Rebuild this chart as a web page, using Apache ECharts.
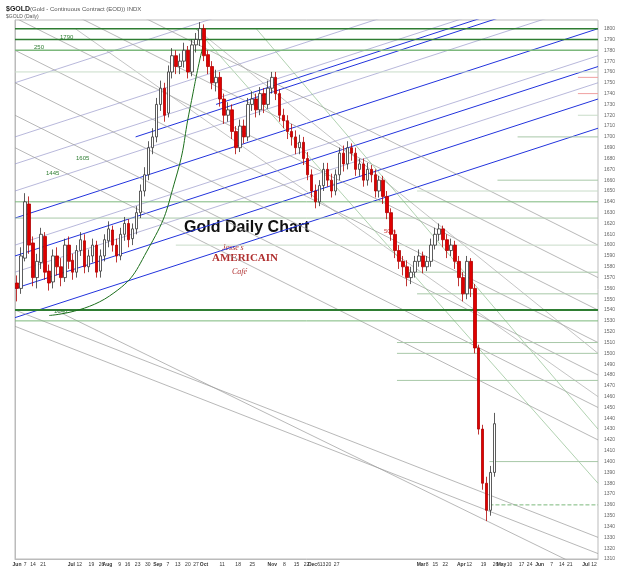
<!DOCTYPE html><html><head><meta charset="utf-8"><script src="https://cdn.jsdelivr.net/npm/echarts@6/dist/echarts.min.js"></script>
<style>html,body{margin:0;background:#fff}#c{width:640px;height:571px}</style></head><body><div id="c"></div><script>
// x tick labels (slot index, text)
var tickIdx=[1,5,9,14,28,32,38,43,46,52,56,61,66,71,76,81,86,90,94,103,111,118,128,134,140,145,148,151,153,156,160,202,205,209,214,222,226,233,239,242,246,252,256,261,267,272,276,284,288];
var tickText=['Jun','7','14','21','Jul','12','19','26','Aug','9','16','23','30','Sep','7','13','20','27','Oct','11','18','25','Nov','8','15','22','Dec','6','13','20','27','Mar','8','15','22','Apr','12','19','26','May','10','17','24','Jun','7','14','21','Jul','12'];
var monthNames=['Jun','Jul','Aug','Sep','Oct','Nov','Dec','Mar','Apr','May'];
// candles: [open, close, low, high], one per 2 slots starting at slot 1
var candles=[
[1565,1560,1548,1572],[1560,1590,1555,1598],[1588,1640,1585,1648],[1638,1600,1592,1645],[1602,1570,1562,1608],[1570,1585,1560,1592],[1584,1610,1578,1616],[1608,1575,1568,1612],[1576,1565,1558,1582],[1566,1590,1560,1596],[1590,1580,1572,1598],
[1580,1570,1562,1588],[1570,1600,1566,1606],[1600,1585,1578,1608],[1586,1575,1568,1592],[1575,1595,1570,1600],[1595,1605,1590,1612],[1604,1580,1574,1610],[1580,1590,1575,1596],[1590,1600,1584,1606],[1600,1575,1570,1604],
[1576,1590,1570,1596],[1590,1605,1585,1610],[1604,1615,1598,1622],[1614,1600,1594,1618],[1600,1590,1584,1606],[1590,1610,1586,1616],[1610,1620,1604,1626],[1620,1605,1598,1624],[1606,1615,1600,1620],[1615,1630,1610,1636],
[1630,1650,1625,1656],[1650,1665,1645,1672],[1665,1690,1660,1696],[1690,1700,1684,1708],[1700,1730,1695,1736],[1730,1745,1724,1752],[1745,1720,1714,1750],[1722,1760,1718,1766],[1760,1775,1754,1782],[1775,1765,1758,1780],
[1765,1770,1758,1777],[1770,1780,1764,1787],[1780,1760,1754,1784],[1760,1785,1756,1790],[1785,1790,1778,1796],[1790,1800,1784,1806],[1800,1775,1770,1804],[1776,1765,1758,1780],[1765,1750,1744,1770],[1750,1755,1742,1762],
[1755,1735,1728,1760],[1735,1720,1712,1740],[1720,1725,1714,1732],[1725,1705,1698,1730],[1705,1690,1684,1710],[1690,1710,1686,1716],[1710,1700,1694,1716],[1700,1730,1696,1736],[1730,1735,1724,1742],[1735,1725,1718,1740],
[1725,1740,1720,1746],[1740,1730,1722,1745],[1730,1745,1726,1752],[1745,1755,1740,1760],[1755,1740,1734,1760],[1740,1720,1714,1744],[1720,1715,1708,1726],[1715,1705,1698,1720],[1705,1700,1692,1712],[1700,1690,1684,1706],
[1690,1695,1684,1702],[1695,1680,1674,1700],[1680,1665,1660,1686],[1665,1650,1644,1670],[1650,1640,1634,1656],[1640,1655,1636,1660],[1655,1670,1650,1676],[1670,1660,1654,1676],[1660,1650,1644,1666],[1650,1665,1646,1670],
[1665,1685,1660,1690],[1685,1675,1668,1692],[1675,1690,1670,1696],[1690,1685,1678,1694],[1685,1670,1664,1690],[1670,1675,1664,1680],[1675,1660,1654,1680],[1660,1670,1655,1676],[1670,1665,1658,1674],[1665,1650,1644,1670],
[1650,1660,1644,1664],[1660,1645,1638,1664],[1645,1630,1624,1650],[1630,1610,1604,1634],[1610,1595,1588,1614],[1595,1585,1578,1600],[1585,1580,1572,1590],[1580,1570,1562,1586],[1570,1575,1564,1580],[1575,1585,1570,1590],
[1585,1590,1580,1596],[1590,1580,1574,1594],[1580,1585,1576,1590],[1585,1600,1580,1606],[1600,1610,1596,1616],[1610,1615,1604,1620],[1615,1605,1598,1618],[1605,1595,1588,1610],[1595,1600,1590,1606],[1600,1585,1578,1604],
[1585,1570,1562,1590],[1570,1555,1548,1575],[1555,1585,1550,1590],[1585,1560,1552,1588],[1560,1505,1500,1564],[1505,1430,1425,1508],[1430,1380,1374,1434],[1380,1355,1345,1386],[1355,1390,1350,1396],[1390,1435,1386,1445]
];
// horizontal annotation lines: [price, start slot, color, width, dashed]
var hLines=[[1800,0,'#2e7d32',1.5,0],[1790,0,'#2e7d32',1.5,0],[1780,0,'#7cb87c',1.5,0],[1760,0,'#c8dcc8',1,0],[1755,280,'#f0a0a0',1,0],[1740,280,'#f0a0a0',1,0],[1720,280,'#c8dcc8',1,0],[1700,250,'#a8c8a8',1,0],[1660,240,'#a8c8a8',1,0],[1650,200,'#c8dcc8',1,0],[1640,0,'#7cb87c',1,0],[1625,0,'#a8c8a8',1,0],[1600,80,'#c8dcc8',1,0],[1575,200,'#a8c8a8',1,0],[1555,200,'#a8c8a8',1,0],[1540,0,'#2e7d32',2,0],[1530,0,'#7cb87c',1,0],[1510,190,'#a8c8a8',1,0],[1500,190,'#a8c8a8',1,0],[1475,190,'#a8c8a8',1,0],[1400,236,'#a8c8a8',1,0],[1360,236,'#7cb87c',1,1]];
// diagonal trend lines: [slot1, price1, slot2, price2, color]
var dLines=[
[0,1533,290,1708,'#2233dd'],[0,1560,290,1735,'#2233dd'],[0,1590,290,1765,'#2233dd'],[0,1625,290,1800,'#2233dd'],[60,1700,290,1840,'#2233dd'],[100,1730,290,1845,'#2233dd'],
[0,1600,290,1775,'#9999cc'],[0,1650,290,1825,'#9999cc'],[0,1675,290,1850,'#9999cc'],[0,1700,290,1875,'#9999cc'],[0,1750,290,1925,'#9999cc'],[0,1575,290,1750,'#9999cc'],
[0,1870,290,1600,'#999999'],[0,1840,290,1570,'#999999'],[0,1810,290,1540,'#999999'],[0,1780,290,1510,'#999999'],[0,1750,290,1480,'#999999'],[0,1720,290,1450,'#999999'],[0,1690,290,1420,'#999999'],[30,1800,290,1460,'#aaaaaa'],[90,1800,290,1500,'#aaaaaa'],
[0,1540,290,1330,'#999999'],[0,1525,290,1315,'#999999'],[20,1540,290,1295,'#999999'],[90,1800,290,1380,'#8fbf8f'],[120,1800,290,1430,'#8fbf8f']];
var parabola=[[17,1535],[47,1553],[67,1599],[80,1662],[87,1726],[92,1772],[94.5,1790]];

var ser=[{type:'candlestick',data:candles.map(function(c,i){return [1+1.98*i].concat(c);}),encode:{x:0,y:[1,2,3,4]},barWidth:3,
 itemStyle:{color:'#ffffff',color0:'#e00000',borderColor:'#333',borderColor0:'#b00000',borderWidth:0.8},z:5}];
hLines.forEach(function(h){ser.push({type:'line',data:[[h[1],h[0]],[290,h[0]]],symbol:'none',silent:true,lineStyle:{color:h[2],width:h[3],type:h[4]?'dashed':'solid'},z:2});});
dLines.forEach(function(d){ser.push({type:'line',data:[[d[0],d[1]],[d[2],d[3]]],symbol:'none',silent:true,lineStyle:{color:d[4],width:d[4]=='#2233dd'?1:0.7},z:1});});
ser.push({type:'line',data:parabola,smooth:true,symbol:'none',lineStyle:{color:'#1b6e1b',width:1},z:3});
var tickMap={};tickIdx.forEach(function(t,i){tickMap[t]=tickText[i];});
var chart=echarts.init(document.getElementById('c'));
chart.setOption({animation:false,
 grid:{left:15,right:42,top:20,bottom:12,show:true,borderColor:'#bbb',borderWidth:1},
 xAxis:{type:'value',min:0,max:290,interval:1,splitLine:{show:false},axisTick:{show:false},axisLine:{lineStyle:{color:'#bbb'}},
  axisLabel:{fontSize:5,color:'#333',margin:3,showMinLabel:true,formatter:function(v){var t=tickMap[v];if(!t)return '';return monthNames.indexOf(t)>=0?'{b|'+t+'}':t;},rich:{b:{fontWeight:'bold',fontSize:5}}}},
 yAxis:{type:'value',position:'right',min:1310,max:1808,interval:10,splitLine:{show:false},axisTick:{show:false},axisLine:{show:true,lineStyle:{color:'#bbb'}},
  axisLabel:{fontSize:5,color:'#666',margin:6,showMaxLabel:false,formatter:function(v){return String(v);}}},
 series:ser,
 graphic:[
  {type:'text',left:6,top:6,style:{text:'$GOLD',font:'bold 7px Arial',fill:'#222'}},
  {type:'text',left:30,top:6,style:{text:'(Gold - Continuous Contract (EOD)) INDX',font:'6px Arial',fill:'#555'}},
  {type:'text',left:6,top:14,style:{text:'$GOLD (Daily)',font:'5px Arial',fill:'#555'}},
  {type:'text',left:184,top:220,style:{text:'Gold Daily Chart',font:'bold 16px Arial',fill:'#111'}},
  {type:'text',left:222,top:244,style:{text:"Jesse's",font:'italic 8px serif',fill:'#b03030'}},
  {type:'text',left:212,top:253,style:{text:'AMERICAIN',font:'bold 11px serif',fill:'#b03030'}},
  {type:'text',left:232,top:268,style:{text:'Café',font:'italic 8px serif',fill:'#b03030'}},
  {type:'text',left:60,top:34,style:{text:'1790',font:'6px Arial',fill:'#2e7d32'}},
  {type:'text',left:34,top:44,style:{text:'250',font:'6px Arial',fill:'#2e7d32'}},
  {type:'text',left:76,top:155,style:{text:'1605',font:'6px Arial',fill:'#2e7d32'}},
  {type:'text',left:46,top:170,style:{text:'1445',font:'6px Arial',fill:'#2e7d32'}},
  {type:'text',left:54,top:308,style:{text:'1040',font:'6px Arial',fill:'#2e7d32'}},
  {type:'text',left:384,top:228,style:{text:'50%',font:'6px Arial',fill:'#d04040'}}
 ]});
</script></body></html>
